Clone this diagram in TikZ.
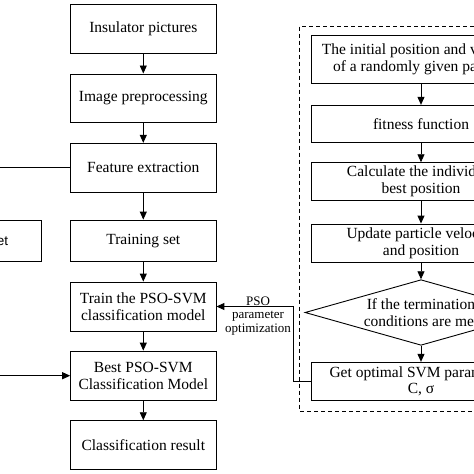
\documentclass[tikz,border=0pt]{standalone}
\usepackage{fontspec}
\usetikzlibrary{shapes.geometric,arrows.meta}
\setmainfont{Liberation Serif}
\newfontfamily\arialfont{Liberation Sans}
\begin{document}
\begin{tikzpicture}[x=1pt,y=-1pt,line width=0.9pt,
        box/.style={draw,rectangle,inner sep=0pt,align=center,font=\fontsize{15.5}{16.8}\selectfont},
        arr/.style={-{Triangle[length=8pt,width=7pt]}}]
        \useasboundingbox (0,0) rectangle (474,474);
        \clip (0,0) rectangle (474,474);
        % main column
        \node[box,minimum width=145.3pt,minimum height=48.6pt] (pic) at (143.3,29) {Insulator pictures};
        \node[box,minimum width=145.3pt,minimum height=48.7pt] (pre) at (143.3,98.3) {Image preprocessing};
        \node[box,minimum width=145.3pt,minimum height=49pt] (feat) at (143.3,167.8) {Feature extraction};
        \node[box,minimum width=145.3pt,minimum height=41.3pt] (tset) at (143.3,240.7) {Training set};
        \node[box,minimum width=145.3pt,minimum height=49pt] (trainm) at (143.3,306.5) {Train the PSO-SVM\\classification model};
        \node[box,minimum width=145.3pt,minimum height=49.3pt] (best) at (143.3,375.7) {Best PSO-SVM\\Classification Model};
        \node[box,minimum width=145.3pt,minimum height=48.6pt] (res) at (143.3,445) {Classification result};
        \node[box,minimum width=112pt,minimum height=41.3pt,font=\arialfont\fontsize{13.5}{16}\selectfont] (test) at (-15,240.7) {Test set};
        \draw[arr] (pic) -- (pre);
        \draw[arr] (pre) -- (feat);
        \draw[arr] (feat) -- (tset);
        \draw[arr] (tset) -- (trainm);
        \draw[arr] (trainm) -- (best);
        \draw[arr] (best) -- (res);
        \coordinate (fout) at (-20,167.8);
        \coordinate (bin) at (-20,375.7);
        \draw (feat.west) -- (fout);
        \draw[arr] (bin) -- (best.west);
        % PSO column
        \draw[dash pattern=on 4pt off 3pt,line width=0.8pt] (299.7,26.7) rectangle (545,411);
        \node[box,minimum width=220pt,minimum height=48.3pt] (init) at (421,59.2) {The initial position and velocity\\of a randomly given particle};
        \node[box,minimum width=220pt,minimum height=37.4pt] (fit) at (421,124) {fitness function};
        \node[box,minimum width=220pt,minimum height=37.6pt] (calc) at (421,181.5) {Calculate the individual\\best position};
        \node[box,minimum width=220pt,minimum height=38pt] (upd) at (421,243) {Update particle velocity\\and position};
        \node[box,diamond,aspect=3.54,minimum width=232pt,minimum height=65.6pt] (cond) at (421,312.5) {If the termination\\conditions are met};
        \node[box,minimum width=220pt,minimum height=38pt] (opt) at (421,381.3) {Get optimal SVM parameters\\C, σ};
        \draw[arr] (init) -- (fit);
        \draw[arr] (fit) -- (calc);
        \draw[arr] (calc) -- (upd);
        \draw[arr] (upd) -- (cond);
        \draw[arr] (cond) -- (opt);
        \draw[arr] (opt.west) -- ++(-16.7,0) |- (trainm.east);
        \node[align=center,font=\fontsize{13}{13.5}\selectfont] (psol) at (258,316) {PSO\\parameter\\optimization};
    \end{tikzpicture}
\end{document}
